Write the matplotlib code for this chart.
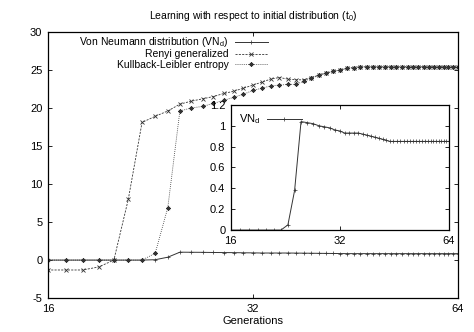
import numpy as np
import matplotlib
matplotlib.use("Agg")
import matplotlib.pyplot as plt
from matplotlib.ticker import FixedLocator, NullLocator, FixedFormatter

plt.rcParams['font.family'] = ['Liberation Sans', 'DejaVu Sans']
plt.rcParams['font.size'] = 7.5
plt.rcParams['mathtext.default'] = 'regular'

# generations 16..64
generations = list(range(16, 65))

von_neumann = [0, 0, 0, 0, 0, 0, 0, 0.05, 0.38, 1.04,
               1.03, 1.02, 1.00, 0.99, 0.98, 0.96, 0.95, 0.93, 0.93, 0.93,
               0.93, 0.92, 0.91, 0.90, 0.89, 0.88, 0.87, 0.86, 0.85, 0.85,
               0.85, 0.85, 0.85, 0.85, 0.85, 0.85, 0.85, 0.85, 0.85, 0.85,
               0.85, 0.85, 0.85, 0.85, 0.85, 0.85, 0.85, 0.85, 0.85]

renyi = [-1.3, -1.3, -1.3, -0.9, 0.0, 8.0, 18.1, 18.9, 19.6, 20.5,
         20.9, 21.2, 21.5, 21.9, 22.2, 22.6, 23.0, 23.4, 23.8, 24.0,
         23.8, 23.7, 23.7, 24.0, 24.3, 24.6, 24.8, 25.0, 25.2, 25.3,
         25.4, 25.4, 25.4, 25.4, 25.4, 25.4, 25.4, 25.4, 25.4, 25.4,
         25.4, 25.4, 25.4, 25.4, 25.4, 25.4, 25.4, 25.4, 25.4]

kullback = [0, 0, 0, 0, 0, 0, 0, 0.9, 6.9, 19.6,
            20.0, 20.2, 20.6, 21.0, 21.4, 21.8, 22.3, 22.6, 22.9, 23.0,
            23.1, 23.1, 23.5, 23.9, 24.3, 24.6, 24.8, 25.0, 25.2, 25.3,
            25.4, 25.4, 25.4, 25.4, 25.4, 25.4, 25.4, 25.4, 25.4, 25.4,
            25.4, 25.4, 25.4, 25.4, 25.4, 25.4, 25.4, 25.4, 25.4]

x_ticks = [16, 32, 64]
main_y_ticks = [-5, 0, 5, 10, 15, 20, 25, 30]
inset_y_ticks = [0, 0.2, 0.4, 0.6, 0.8, 1, 1.2]
inset_y_labels = ["0", "0.2", "0.4", "0.6", "0.8", "1", "1.2"]

star = (8, 2, 0)


def gnuplot_axes(ax):
    ax.set_xscale("log", base=2)
    ax.set_xlim(16, 64)
    ax.xaxis.set_major_locator(FixedLocator(x_ticks))
    ax.xaxis.set_major_formatter(FixedFormatter([str(t) for t in x_ticks]))
    ax.xaxis.set_minor_locator(NullLocator())
    ax.tick_params(direction="in", top=True, right=True, length=3, width=0.6, pad=4,
                   labelsize=8)
    for s in ax.spines.values():
        s.set_linewidth(0.9)


fig = plt.figure(figsize=(4.74, 3.32), dpi=100)
ax = fig.add_axes([0.101, 0.102, 0.865, 0.802])

ax.plot(generations, von_neumann, color="#333333", lw=0.7, marker="+", ms=3, mew=0.5,
        label="Von Neumann distribution (VN$_d$)")
ax.plot(generations, renyi, color="#333333", lw=0.6, ls=(0, (2.5, 1.5)), marker="x", ms=3.2, mew=0.6,
        label="Renyi generalized")
ax.plot(generations, kullback, color="#333333", lw=0.6, ls=(0, (1, 1.5)), marker=star, ms=3.2, mew=0.5,
        label="Kullback-Leibler entropy")

gnuplot_axes(ax)
ax.set_ylim(-5, 30)
ax.set_yticks(main_y_ticks)
ax.set_yticklabels([str(t) for t in main_y_ticks])
ax.set_xlabel("Generations", labelpad=2, fontsize=8)
ax.set_title("Learning with respect to initial distribution (t$_0$)", fontsize=7.5, pad=9)

ax.legend(loc="upper right", bbox_to_anchor=(0.555, 1.015), frameon=False, markerfirst=False,
          numpoints=1, handlelength=3.2, handletextpad=0.6, labelspacing=0.02,
          borderpad=0.2, fontsize=7.5)

ins = fig.add_axes([0.487, 0.307, 0.460, 0.377])
ins.plot(generations, von_neumann, color="#333333", lw=0.7, marker="+", ms=3, mew=0.5,
         label="VN$_d$")
gnuplot_axes(ins)
ins.set_ylim(0, 1.2)
ins.set_yticks(inset_y_ticks)
ins.set_yticklabels(inset_y_labels)
ins.legend(loc="upper left", frameon=False, markerfirst=False, numpoints=1,
           handlelength=3.2, handletextpad=0.6, borderpad=0.2, fontsize=8)

fig.savefig("out.png", dpi=100)
